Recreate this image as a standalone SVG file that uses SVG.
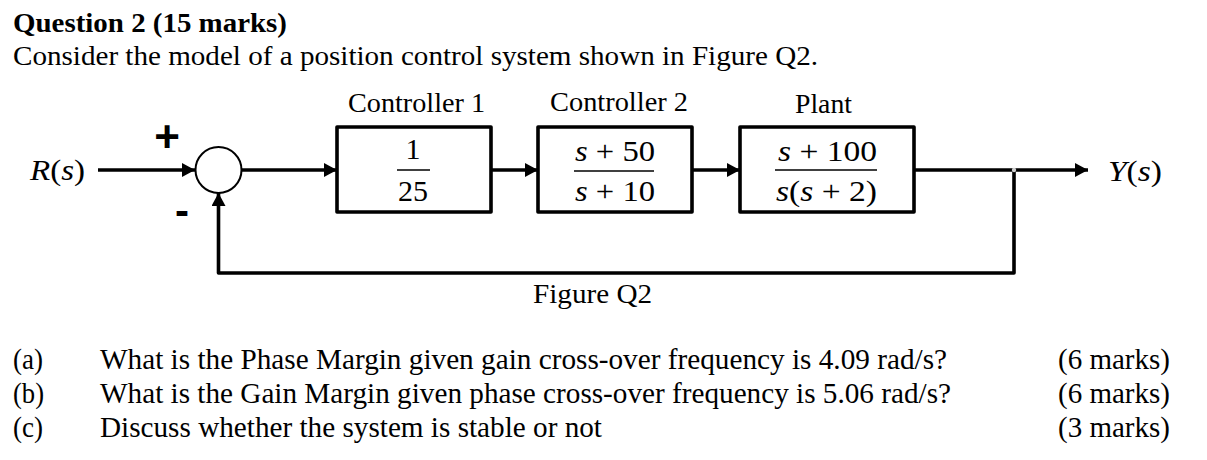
<svg xmlns="http://www.w3.org/2000/svg" width="1207" height="460" viewBox="0 0 1207 460">
<style>
.t{font-family:"Liberation Serif","Times New Roman",serif;fill:#000}
.m{font-family:"Liberation Serif","Times New Roman",serif;font-size:30px;fill:#000}
.i{font-style:italic}
.box{fill:#fff;stroke:#000;stroke-width:3.6;stroke-linejoin:round}
.w{fill:none;stroke:#000;stroke-width:3.6}
.fr{stroke:#000;stroke-width:1.5}
</style>
<defs>
<marker id="ah" markerWidth="13" markerHeight="14" refX="13" refY="7" orient="auto" markerUnits="userSpaceOnUse">
<path d="M0,0 L13,7 L0,14 Z" fill="#000"/>
</marker>
</defs>
<rect width="1207" height="460" fill="#fff"/>

<text class="t" x="13" y="32" font-size="28" font-weight="bold" textLength="274" lengthAdjust="spacingAndGlyphs">Question 2 (15 marks)</text>
<text class="t" x="13" y="65" font-size="27.5" textLength="805" lengthAdjust="spacingAndGlyphs">Consider the model of a position control system shown in Figure Q2.</text>

<g id="connectors">
<line class="w" x1="98" y1="170" x2="195" y2="170" marker-end="url(#ah)"/>
<line class="w" x1="242" y1="170" x2="337" y2="170" marker-end="url(#ah)"/>
<line class="w" x1="491" y1="170" x2="538" y2="170" marker-end="url(#ah)"/>
<line class="w" x1="692" y1="170" x2="740" y2="170" marker-end="url(#ah)"/>
<line class="w" x1="914" y1="170" x2="1088" y2="170" marker-end="url(#ah)"/>
<polyline class="w" points="1014,170 1014,273 218.5,273 218.5,193" marker-end="url(#ah)" stroke-linejoin="round"/>
<circle cx="1014" cy="170" r="2.2" fill="#d0d0d0"/>
</g>

<g id="input">
<text class="m" x="30" y="180" textLength="55" lengthAdjust="spacingAndGlyphs"><tspan class="i">R</tspan>(<tspan class="i">s</tspan>)</text>
</g>

<g id="sum">
<circle cx="218.5" cy="170" r="23" fill="#fff" stroke="#000" stroke-width="2"/>
<text x="167" y="152" font-family="Liberation Sans,Arial,sans-serif" font-weight="bold" font-size="44" text-anchor="middle">+</text>
<text x="182" y="225" font-family="Liberation Sans,Arial,sans-serif" font-weight="bold" font-size="42" text-anchor="middle">-</text>
</g>

<g id="controller1">
<text class="t" x="348" y="112" font-size="28" textLength="137" lengthAdjust="spacingAndGlyphs">Controller 1</text>
<rect class="box" x="337" y="127" width="154" height="85"/>
<text class="m" x="413" y="159" text-anchor="middle">1</text>
<line class="fr" x1="397" y1="170" x2="430" y2="170"/>
<text class="m" x="413" y="201" text-anchor="middle">25</text>
</g>

<g id="controller2">
<text class="t" x="550" y="111" font-size="28" textLength="138" lengthAdjust="spacingAndGlyphs">Controller 2</text>
<rect class="box" x="538" y="127" width="154" height="85"/>
<text class="m" x="575" y="161" textLength="80" lengthAdjust="spacingAndGlyphs"><tspan class="i">s</tspan> + 50</text>
<line class="fr" x1="574" y1="171" x2="654" y2="171"/>
<text class="m" x="575" y="201" textLength="80" lengthAdjust="spacingAndGlyphs"><tspan class="i">s</tspan> + 10</text>
</g>

<g id="plant">
<text class="t" x="795" y="113" font-size="28" textLength="57" lengthAdjust="spacingAndGlyphs">Plant</text>
<rect class="box" x="740" y="127" width="174" height="85"/>
<text class="m" x="778" y="161" textLength="99" lengthAdjust="spacingAndGlyphs"><tspan class="i">s</tspan> + 100</text>
<line class="fr" x1="775" y1="170" x2="877" y2="170"/>
<text class="m" x="776" y="201" textLength="101" lengthAdjust="spacingAndGlyphs"><tspan class="i">s</tspan>(<tspan class="i">s</tspan> + 2)</text>
</g>

<g id="output">
<text class="m" x="1108" y="181" textLength="54" lengthAdjust="spacingAndGlyphs"><tspan class="i">Y</tspan>(<tspan class="i">s</tspan>)</text>
</g>

<text class="t" x="533" y="303" font-size="28" textLength="119" lengthAdjust="spacingAndGlyphs">Figure Q2</text>

<text class="t" x="13" y="369" font-size="28.5" textLength="30" lengthAdjust="spacingAndGlyphs">(a)</text>
<text class="t" x="100" y="369" font-size="28.5" textLength="847" lengthAdjust="spacingAndGlyphs">What is the Phase Margin given gain cross-over frequency is 4.09 rad/s?</text>
<text class="t" x="1058" y="369" font-size="28.5" textLength="112" lengthAdjust="spacingAndGlyphs">(6 marks)</text>

<text class="t" x="13" y="403" font-size="28.5" textLength="31" lengthAdjust="spacingAndGlyphs">(b)</text>
<text class="t" x="100" y="403" font-size="28.5" textLength="851" lengthAdjust="spacingAndGlyphs">What is the Gain Margin given phase cross-over frequency is 5.06 rad/s?</text>
<text class="t" x="1058" y="403" font-size="28.5" textLength="112" lengthAdjust="spacingAndGlyphs">(6 marks)</text>

<text class="t" x="13" y="437" font-size="28.5" textLength="30" lengthAdjust="spacingAndGlyphs">(c)</text>
<text class="t" x="100" y="437" font-size="28.5" textLength="502" lengthAdjust="spacingAndGlyphs">Discuss whether the system is stable or not</text>
<text class="t" x="1058" y="437" font-size="28.5" textLength="112" lengthAdjust="spacingAndGlyphs">(3 marks)</text>
</svg>
